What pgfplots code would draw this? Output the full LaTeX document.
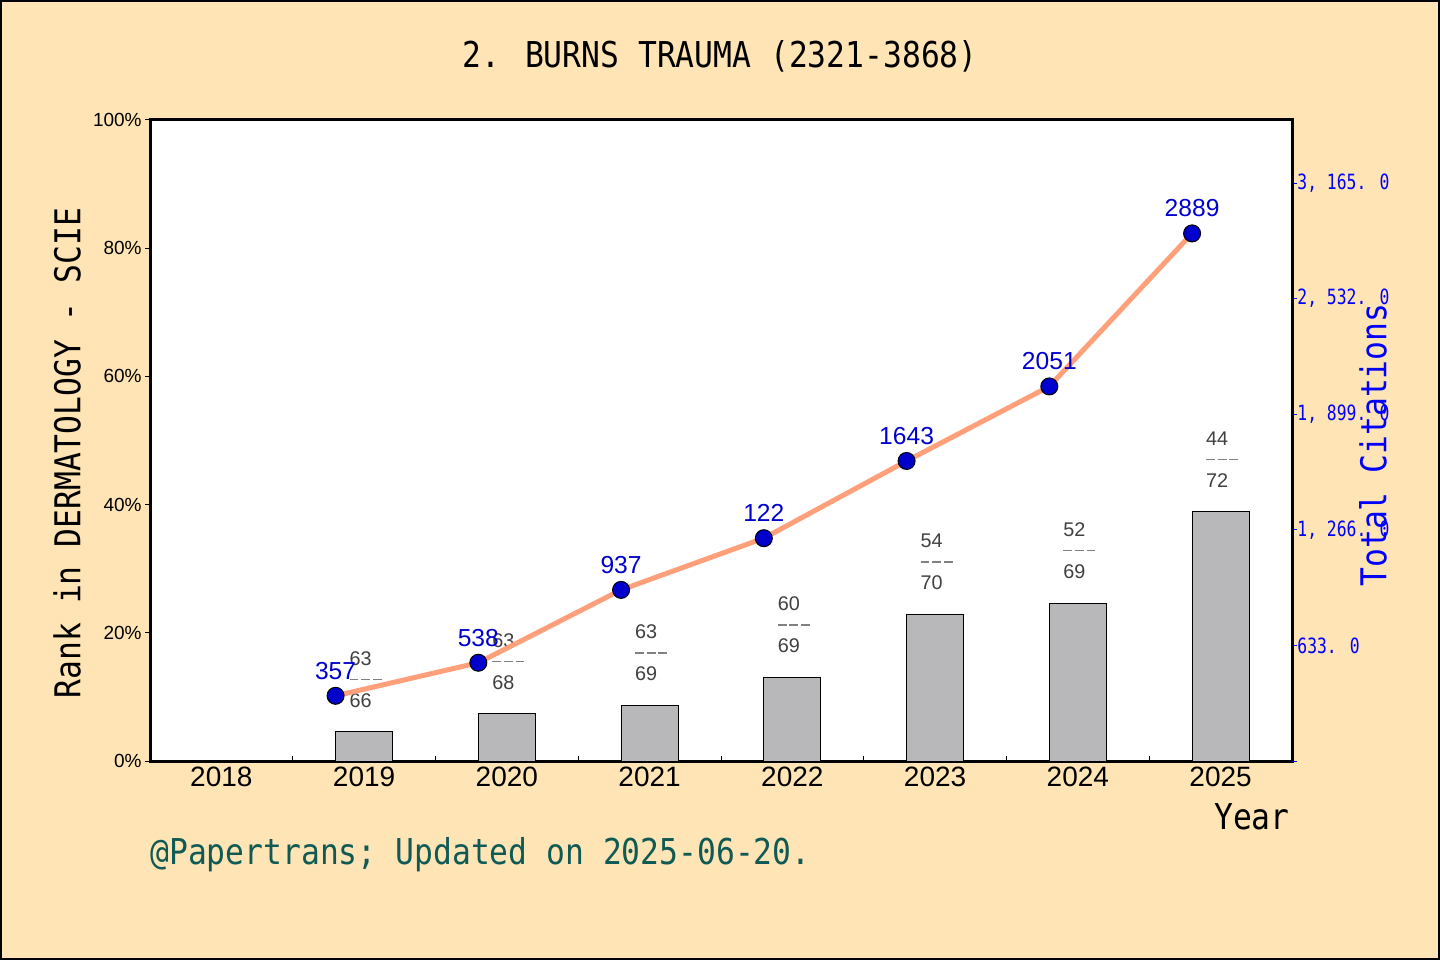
\documentclass[border=0pt]{standalone}
\usepackage{pgfplots}
\pgfplotsset{compat=1.18}
\usepackage{pgfplotstable}
\usepackage{fontspec}
\setmainfont{Liberation Sans}
\newfontfamily\monof[FakeStretch=0.88]{DejaVu Sans Mono}
\newfontfamily\monon[FakeStretch=0.78]{DejaVu Sans Mono}
\definecolor{bgc}{RGB}{255,228,181}
\definecolor{barc}{RGB}{184,184,186}
\definecolor{linec}{RGB}{255,160,122}
\definecolor{ptc}{RGB}{0,0,205}
\definecolor{foot}{RGB}{15,90,85}
\definecolor{lblc}{RGB}{64,64,64}
\newcommand\dsh{\rule[0.3em]{4.4pt}{0.7pt}}
\newcommand\dashes{{\color{gray}\dsh\hspace{1.4pt}\dsh\hspace{1.4pt}\dsh}}

\pgfplotstableread{
x y num den
1 4.55 63 66
2 7.35 63 68
3 8.70 63 69
4 13.04 60 69
5 22.86 54 70
6 24.64 52 69
7 38.89 44 72
}\ranktab

\pgfplotstableread{
x y lab
0.8 357 357
1.8 538 538
2.8 937 937
3.8 1220 122
4.8 1643 1643
5.8 2051 2051
6.8 2889 2889
}\citetab

\begin{document}
\begin{tikzpicture}
\fill[bgc] (-75pt,-99.5pt) rectangle (645pt,380.5pt);
\draw[black, line width=0.8pt] (-74.6pt,-99.1pt) rectangle (644.6pt,380.1pt);
\begin{axis}[
 at={(0,0)}, anchor=south west,
 width=571pt, height=320.5pt, scale only axis,
 xmin=-0.5, xmax=7.5, ymin=0, ymax=100,
 axis background/.style={fill=white},
 axis line style={line width=1.5pt},
 xtick={0,1,2,3,4,5,6,7},
 xticklabels={2018,2019,2020,2021,2022,2023,2024,2025},
 major x tick style={draw=none},
 minor xtick={0.5,1.5,2.5,3.5,4.5,5.5,6.5},
 xtick align=inside, xtick pos=bottom,
 minor tick length=2.5pt, major tick length=2.5pt,
 ytick={0,20,40,60,80,100},
 yticklabels={0\%,20\%,40\%,60\%,80\%,100\%},
 ytick align=outside, ytick pos=left,
 yticklabel style={font=\fontsize{9.5pt}{11pt}\selectfont, inner sep=0pt, xshift=-1.5pt},
 xticklabel style={font=\fontsize{14pt}{16pt}\selectfont, inner sep=0pt, yshift=-3pt},
 tick style={black, line width=0.5pt},
 clip=false,
]
\addplot[ybar, bar width=0.4, fill=barc, draw=black, line width=0.5pt,
  /pgf/number format/assume math mode=true,
  visualization depends on={\thisrow{num}\as\rnum},
  visualization depends on={\thisrow{den}\as\rden},
  nodes near coords={\pgfmathprintnumber{\rnum}\\\dashes\\\pgfmathprintnumber{\rden}},
  every node near coord/.append style={align=left, anchor=south west, inner sep=0pt, xshift=-7.5pt, yshift=12pt, text=lblc, font=\fontsize{9.9pt}{10.5pt}\selectfont}
] table[x=x,y=y] {\ranktab};
\end{axis}
\begin{axis}[
 at={(0,0)}, anchor=south west,
 width=571pt, height=320.5pt, scale only axis,
 xmin=-0.5, xmax=7.5, ymin=0, ymax=3510,
 axis x line=none, axis y line*=right,
 axis line style={line width=1.5pt},
 ytick={0,633,1266,1899,2532,3165},
 yticklabels={,{633. 0},{1, 266. 0},{1, 899. 0},{2, 532. 0},{3, 165. 0}},
 ytick align=outside, ytick style={blue,line width=0.5pt}, major tick length=2.5pt,
 yticklabel style={font=\monon\fontsize{10.5pt}{12pt}\selectfont, text=blue, inner sep=0pt, anchor=west},
 clip=false,
]
\addplot[linec, line width=2.5pt, mark=*, mark size=4.25pt,
  mark options={fill=ptc, draw=black, line width=0.5pt},
  point meta=explicit symbolic,
  nodes near coords,
  every node near coord/.append style={text=ptc, font=\fontsize{12.3pt}{14pt}\selectfont, anchor=south, inner sep=0pt, yshift=8pt}
] table[x=x,y=y,meta=lab] {\citetab};
\end{axis}
\node[inner sep=0pt, font=\monof\fontsize{17.8pt}{20pt}\selectfont] at (285pt,352.5pt) {2. BURNS TRAUMA (2321-3868)};
\node[inner sep=0pt, rotate=90, font=\monof\fontsize{17.8pt}{20pt}\selectfont] at (-41.5pt,154pt) {Rank in DERMATOLOGY - SCIE};
\node[inner sep=0pt, rotate=90, text=blue, font=\monof\fontsize{17.8pt}{20pt}\selectfont] at (611.5pt,158pt) {Total Citations};
\node[inner sep=0pt, anchor=east, font=\monof\fontsize{17.8pt}{20pt}\selectfont] at (570pt,-28pt) {Year};
\node[inner sep=0pt, anchor=west, text=foot, font=\monof\fontsize{17.8pt}{20pt}\selectfont] at (0pt,-47pt) {@Papertrans; Updated on 2025-06-20.};
\end{tikzpicture}
\end{document}
